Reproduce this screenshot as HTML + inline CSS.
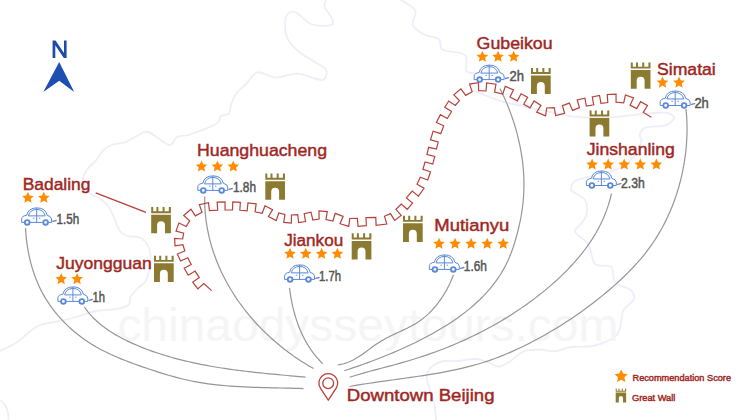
<!DOCTYPE html>
<html><head><meta charset="utf-8"><style>
html,body{margin:0;padding:0;background:#fff;overflow:hidden;width:747px;height:420px;}
svg{display:block;font-family:"Liberation Sans",sans-serif;}
</style></head><body>
<svg width="747" height="420" viewBox="0 0 747 420">
<rect width="747" height="420" fill="#ffffff"/>

<path d="M326.0,0.0 C325.8,1.1 323.5,3.4 324.6,6.7 C325.7,10.0 331.7,16.9 332.6,20.0 C333.5,23.1 333.6,24.7 330.0,25.4 C326.4,26.1 316.8,26.2 311.0,24.0 C305.2,21.8 299.2,13.1 295.0,12.0 C290.8,10.9 287.1,13.1 285.8,17.4 C284.5,21.6 285.0,31.9 287.0,37.5 C289.0,43.1 293.5,47.0 298.0,51.0 C302.5,55.0 309.3,58.5 314.0,61.6 C318.7,64.7 324.7,66.5 326.0,69.6 C327.3,72.7 326.7,79.3 322.0,80.0 C317.3,80.7 305.5,74.0 297.8,73.6 C290.1,73.2 282.7,77.8 276.0,77.6 C269.3,77.4 262.4,71.4 257.6,72.3 C252.8,73.2 250.6,79.4 247.0,83.0 C243.4,86.6 238.7,90.3 236.0,94.0 C233.3,97.7 232.2,101.7 231.0,105.0 C229.8,108.3 230.7,111.8 229.0,113.6 C227.3,115.4 223.2,114.3 221.0,116.0 C218.8,117.7 221.2,120.9 216.0,124.0 C210.8,127.1 196.5,132.3 190.0,134.5 C183.5,136.7 180.5,135.2 177.0,137.0 C173.5,138.8 173.8,145.8 169.0,145.0 C164.2,144.2 153.7,133.3 148.0,132.0 C142.3,130.7 138.9,135.3 135.0,137.0 C131.1,138.7 128.4,141.1 124.5,142.4 C120.6,143.7 114.9,143.7 111.4,145.0 C107.9,146.3 106.2,147.4 103.6,150.0 C101.0,152.6 98.3,157.6 95.7,160.7 C93.1,163.8 90.0,165.5 87.9,168.6 C85.8,171.7 82.8,175.0 83.0,179.0 C83.2,183.0 86.4,189.2 89.0,192.4 C91.6,195.6 95.4,195.8 98.6,198.0 C101.8,200.2 105.5,202.5 108.0,205.7 C110.5,208.9 111.9,212.9 113.8,217.0 C115.7,221.1 117.3,227.3 119.5,230.5 C121.7,233.7 123.6,234.8 127.0,236.0 C130.4,237.2 136.6,236.1 140.0,237.6 C143.4,239.1 145.8,242.1 147.6,245.0 C149.3,247.9 150.2,251.0 150.5,254.8 C150.8,258.6 150.3,263.6 149.5,268.0 C148.7,272.4 147.6,277.7 145.7,281.0 C143.8,284.3 140.5,285.3 138.0,288.0 C135.5,290.7 132.1,294.2 130.5,297.0 C128.9,299.8 130.8,303.0 128.5,305.0 C126.2,307.0 121.8,308.0 116.5,309.0 C111.2,310.0 103.1,309.7 96.4,311.0 C89.7,312.3 82.3,315.3 76.3,317.0 C70.3,318.7 66.2,319.7 60.2,321.0 C54.2,322.3 45.6,323.0 40.2,325.0 C34.8,327.0 32.0,330.0 28.0,333.0 C24.0,336.0 20.7,340.0 16.0,343.0 C11.3,346.0 2.7,349.7 0.0,351.0" fill="none" stroke="#eeeef8" stroke-width="1.8"/>
<path d="M400.9,0.0 C403.3,1.8 413.3,6.4 415.3,10.5 C417.3,14.6 411.4,21.0 412.7,24.9 C414.0,28.8 418.8,31.6 423.1,34.0 C427.5,36.4 435.5,36.7 438.8,39.3 C442.1,41.9 438.4,47.2 442.8,49.8 C447.2,52.4 461.1,51.5 465.0,55.0 C468.9,58.5 464.6,67.6 466.4,70.7 C468.1,73.8 474.0,73.0 475.5,73.4" fill="none" stroke="#eeeef8" stroke-width="1.8"/>
<path d="M470.0,89.0 C473.3,90.3 483.9,94.7 490.0,97.0 C496.1,99.3 497.5,100.4 506.9,102.7 C516.3,105.0 535.0,108.7 546.2,111.0 C557.4,113.3 564.9,115.5 574.3,116.7 C583.7,117.9 593.1,118.3 602.5,118.1 C611.9,117.9 620.3,116.2 630.6,115.3 C640.9,114.4 657.1,112.2 664.3,112.5 C671.5,112.8 672.5,115.6 673.8,117.0 C675.1,118.4 673.6,119.5 672.0,121.0 C670.4,122.5 668.8,124.6 664.3,125.7 C659.8,126.8 649.3,126.0 645.2,127.6 C641.1,129.2 640.1,133.0 639.5,135.2 C638.9,137.4 642.1,137.7 641.4,141.0 C640.6,144.3 638.6,150.5 635.0,155.0 C631.4,159.5 625.8,164.8 620.0,168.0 C614.2,171.2 605.3,172.5 600.0,174.0 C594.7,175.5 592.2,175.8 588.0,177.0 C583.8,178.2 577.6,179.1 574.8,181.0 C572.0,182.9 571.2,186.8 571.0,188.6 C570.8,190.4 571.0,190.1 573.3,192.0 C575.6,193.9 582.8,196.4 585.0,200.0 C587.2,203.6 587.2,209.4 586.7,213.3 C586.2,217.2 583.7,220.2 581.7,223.3 C579.8,226.4 574.0,228.2 575.0,231.7 C576.0,235.1 584.9,239.0 588.0,244.0 C591.1,249.0 591.7,257.9 593.4,261.5 C595.1,265.1 595.2,264.4 598.2,265.3 C601.2,266.2 608.6,264.4 611.5,267.2 C614.4,270.0 612.1,278.6 615.3,282.4 C618.5,286.2 627.6,287.1 630.6,290.0 C633.6,292.9 634.8,296.1 633.5,299.6 C632.2,303.1 625.2,306.2 623.0,311.0 C620.8,315.8 621.5,324.3 620.0,328.6 C618.5,332.9 618.6,334.1 614.3,337.0 C610.0,339.9 601.4,344.0 594.3,345.7 C587.1,347.4 578.1,346.1 571.4,347.0 C564.7,347.9 559.5,351.0 554.3,351.4 C549.1,351.8 545.1,349.5 540.0,349.5 C534.9,349.5 528.7,349.5 523.8,351.4 C518.9,353.3 514.6,358.4 510.5,361.0 C506.4,363.6 502.5,366.4 499.0,366.7 C495.5,367.0 493.3,364.2 489.5,362.9 C485.7,361.6 481.6,359.3 476.2,359.0 C470.8,358.7 462.5,360.7 457.1,361.0 C451.7,361.3 447.6,360.4 443.8,361.0 C440.0,361.6 436.8,363.2 434.3,364.8 C431.8,366.4 429.9,368.3 428.6,370.5 C427.3,372.7 426.5,374.8 426.7,378.0 C426.9,381.2 428.7,385.9 430.0,390.0 C431.3,394.1 433.3,397.9 434.3,402.9 C435.3,407.9 435.9,417.1 436.2,420.0" fill="none" stroke="#eeeef8" stroke-width="1.8"/>
<path d="M0.0,400.0 C0.8,400.8 3.7,402.8 5.0,405.0 C6.3,407.2 7.4,410.5 8.0,413.0 C8.6,415.5 8.5,418.8 8.6,420.0" fill="none" stroke="#eeeef8" stroke-width="1.8"/>
<text x="117.4" y="340.5" font-size="46" fill="#f5f5f5" textLength="501" lengthAdjust="spacingAndGlyphs">chinaodysseytours.com</text>
<path d="M25.50,228.00 L25.77,232.40 L26.15,236.83 L26.65,241.30 L27.28,245.78 L28.02,250.28 L28.89,254.77 L29.89,259.25 L31.01,263.70 L32.27,268.13 L33.66,272.51 L35.18,276.84 L36.85,281.11 L38.66,285.29 L40.61,289.40 L42.71,293.42 L44.94,297.34 L47.31,301.18 L49.81,304.92 L52.44,308.58 L55.19,312.13 L58.06,315.60 L61.04,318.96 L64.14,322.23 L67.34,325.39 L70.64,328.46 L74.04,331.42 L77.54,334.28 L81.12,337.03 L84.80,339.67 L88.55,342.21 L92.38,344.64 L96.29,346.96 L100.27,349.17 L104.31,351.28 L108.41,353.29 L112.55,355.21 L116.75,357.06 L120.98,358.83 L125.24,360.54 L129.53,362.18 L133.84,363.77 L138.16,365.32 L142.49,366.83 L146.82,368.30 L151.14,369.75 L155.47,371.18 L159.79,372.56 L164.12,373.90 L168.45,375.20 L172.79,376.44 L177.14,377.62 L181.51,378.73 L185.89,379.77 L190.29,380.73 L194.71,381.61 L199.16,382.41 L203.62,383.13 L208.10,383.79 L212.60,384.37 L217.11,384.89 L221.64,385.36 L226.17,385.76 L230.72,386.12 L235.28,386.44 L239.84,386.71 L244.40,386.94 L248.97,387.15 L253.54,387.32 L258.11,387.47 L262.69,387.60 L267.25,387.72 L271.82,387.82 L276.37,387.92 L280.92,388.01 L285.46,388.11 L289.99,388.21 L294.51,388.33 L299.01,388.45 L303.50,388.60" fill="none" stroke="#969696" stroke-width="1.2"/>
<path d="M84.39,307.01 L86.15,309.46 L87.99,311.83 L89.91,314.12 L91.91,316.33 L93.98,318.46 L96.12,320.52 L98.32,322.51 L100.59,324.42 L102.92,326.27 L105.30,328.06 L107.73,329.78 L110.22,331.45 L112.75,333.05 L115.32,334.61 L117.93,336.10 L120.57,337.55 L123.25,338.95 L125.95,340.31 L128.68,341.62 L131.44,342.89 L134.21,344.12 L136.99,345.32 L139.79,346.49 L142.60,347.62 L145.42,348.71 L148.25,349.78 L151.09,350.82 L153.94,351.82 L156.80,352.80 L159.67,353.75 L162.55,354.66 L165.43,355.55 L168.33,356.42 L171.23,357.25 L174.14,358.07 L177.06,358.85 L179.99,359.61 L182.92,360.35 L185.86,361.06 L188.81,361.75 L191.76,362.41 L194.72,363.06 L197.68,363.68 L200.65,364.29 L203.62,364.87 L206.60,365.43 L209.58,365.98 L212.57,366.50 L215.56,367.01 L218.55,367.51 L221.55,367.98 L224.55,368.44 L227.55,368.89 L230.55,369.32 L233.56,369.73 L236.57,370.13 L239.58,370.52 L242.59,370.90 L245.60,371.27 L248.61,371.62 L251.62,371.97 L254.63,372.30 L257.64,372.63 L260.65,372.95 L263.66,373.26 L266.66,373.56 L269.67,373.86 L272.67,374.14 L275.67,374.43 L278.67,374.71 L281.67,374.98 L284.66,375.25 L287.65,375.52 L290.64,375.79 L293.62,376.05 L296.60,376.31 L299.57,376.58 L302.54,376.84 L305.50,377.10" fill="none" stroke="#969696" stroke-width="1.2"/>
<path d="M204.70,196.50 L204.68,199.26 L204.71,202.02 L204.78,204.77 L204.90,207.51 L205.06,210.25 L205.27,212.97 L205.53,215.68 L205.83,218.39 L206.17,221.08 L206.56,223.76 L206.99,226.43 L207.46,229.09 L207.98,231.74 L208.53,234.38 L209.13,237.01 L209.77,239.62 L210.45,242.22 L211.17,244.81 L211.93,247.39 L212.73,249.95 L213.56,252.50 L214.44,255.04 L215.35,257.56 L216.30,260.07 L217.29,262.56 L218.31,265.04 L219.37,267.50 L220.47,269.95 L221.60,272.39 L222.77,274.80 L223.97,277.20 L225.21,279.59 L226.47,281.96 L227.78,284.31 L229.11,286.65 L230.48,288.96 L231.88,291.26 L233.31,293.55 L234.77,295.81 L236.26,298.06 L237.78,300.29 L239.33,302.49 L240.91,304.68 L242.52,306.85 L244.16,309.01 L245.82,311.14 L247.51,313.25 L249.23,315.34 L250.98,317.41 L252.75,319.46 L254.55,321.48 L256.38,323.49 L258.22,325.47 L260.10,327.44 L262.00,329.38 L263.92,331.29 L265.86,333.19 L267.83,335.06 L269.82,336.91 L271.83,338.73 L273.86,340.54 L275.91,342.31 L277.98,344.07 L280.08,345.79 L282.19,347.50 L284.32,349.18 L286.48,350.83 L288.65,352.46 L290.83,354.06 L293.04,355.63 L295.26,357.18 L297.50,358.71 L299.76,360.20 L302.03,361.67 L304.31,363.11 L306.61,364.53 L308.93,365.91 L311.26,367.27 L313.60,368.60" fill="none" stroke="#969696" stroke-width="1.2"/>
<path d="M289.50,287.90 L289.63,288.95 L289.77,289.99 L289.91,291.04 L290.07,292.09 L290.22,293.13 L290.38,294.18 L290.55,295.23 L290.73,296.28 L290.91,297.33 L291.09,298.37 L291.29,299.42 L291.48,300.47 L291.69,301.52 L291.90,302.56 L292.12,303.61 L292.34,304.65 L292.58,305.70 L292.81,306.74 L293.06,307.78 L293.31,308.82 L293.57,309.86 L293.84,310.89 L294.11,311.93 L294.39,312.96 L294.68,313.99 L294.97,315.02 L295.27,316.05 L295.58,317.08 L295.90,318.10 L296.22,319.12 L296.55,320.14 L296.89,321.15 L297.24,322.16 L297.59,323.17 L297.96,324.18 L298.33,325.18 L298.70,326.18 L299.09,327.17 L299.49,328.17 L299.89,329.16 L300.30,330.14 L300.72,331.12 L301.15,332.10 L301.58,333.07 L302.03,334.04 L302.48,335.00 L302.94,335.96 L303.41,336.92 L303.89,337.87 L304.38,338.81 L304.88,339.75 L305.39,340.69 L305.90,341.62 L306.42,342.54 L306.96,343.46 L307.50,344.38 L308.05,345.29 L308.62,346.19 L309.19,347.09 L309.77,347.98 L310.36,348.86 L310.96,349.74 L311.57,350.61 L312.19,351.48 L312.82,352.33 L313.46,353.19 L314.11,354.03 L314.76,354.87 L315.43,355.70 L316.11,356.52 L316.80,357.34 L317.50,358.15 L318.22,358.95 L318.94,359.75 L319.67,360.53 L320.41,361.31 L321.16,362.08 L321.93,362.84 L322.70,363.60" fill="none" stroke="#969696" stroke-width="1.2"/>
<path d="M453.40,274.70 L452.77,276.51 L452.10,278.30 L451.39,280.08 L450.64,281.84 L449.85,283.59 L449.02,285.32 L448.15,287.03 L447.26,288.73 L446.32,290.42 L445.36,292.08 L444.37,293.73 L443.34,295.37 L442.29,296.99 L441.21,298.59 L440.11,300.17 L438.97,301.73 L437.81,303.28 L436.63,304.79 L435.41,306.29 L434.17,307.76 L432.90,309.20 L431.61,310.60 L430.28,311.98 L428.93,313.33 L427.55,314.64 L426.14,315.91 L424.70,317.15 L423.24,318.34 L421.74,319.50 L420.21,320.61 L418.66,321.68 L417.08,322.70 L415.47,323.69 L413.84,324.64 L412.19,325.57 L410.52,326.46 L408.84,327.33 L407.14,328.18 L405.43,329.02 L403.71,329.84 L401.98,330.65 L400.24,331.45 L398.51,332.25 L396.77,333.05 L395.03,333.86 L393.29,334.68 L391.56,335.50 L389.84,336.34 L388.13,337.20 L386.42,338.08 L384.74,338.99 L383.06,339.92 L381.41,340.89 L379.78,341.89 L378.17,342.93 L376.57,344.00 L374.99,345.10 L373.42,346.22 L371.87,347.35 L370.31,348.49 L368.76,349.64 L367.21,350.79 L365.66,351.93 L364.10,353.06 L362.53,354.17 L360.94,355.26 L359.34,356.32 L357.73,357.35 L356.09,358.34 L354.42,359.28 L352.73,360.18 L351.00,361.02 L349.25,361.80 L347.45,362.51 L345.61,363.15 L343.73,363.72 L341.81,364.20 L339.83,364.60 L337.80,364.90" fill="none" stroke="#969696" stroke-width="1.2"/>
<path d="M500.00,88.60 L502.09,92.89 L504.11,97.23 L506.04,101.63 L507.89,106.08 L509.65,110.57 L511.32,115.10 L512.91,119.68 L514.39,124.29 L515.79,128.93 L517.08,133.61 L518.27,138.31 L519.35,143.03 L520.33,147.78 L521.19,152.54 L521.95,157.32 L522.58,162.11 L523.10,166.91 L523.50,171.72 L523.78,176.52 L523.92,181.33 L523.94,186.13 L523.83,190.93 L523.59,195.71 L523.21,200.49 L522.71,205.26 L522.09,210.01 L521.35,214.76 L520.49,219.49 L519.52,224.21 L518.44,228.92 L517.25,233.61 L515.96,238.29 L514.56,242.95 L513.05,247.59 L511.42,252.17 L509.65,256.69 L507.72,261.12 L505.62,265.43 L503.35,269.64 L500.91,273.73 L498.32,277.72 L495.58,281.60 L492.70,285.38 L489.69,289.06 L486.54,292.63 L483.27,296.11 L479.89,299.50 L476.40,302.79 L472.80,305.99 L469.11,309.10 L465.34,312.13 L461.48,315.07 L457.54,317.92 L453.54,320.70 L449.47,323.40 L445.35,326.02 L441.18,328.57 L436.97,331.05 L432.73,333.46 L428.46,335.80 L424.16,338.07 L419.86,340.28 L415.54,342.43 L411.20,344.52 L406.86,346.56 L402.49,348.54 L398.12,350.48 L393.73,352.36 L389.32,354.20 L384.90,356.01 L380.46,357.77 L376.01,359.49 L371.54,361.19 L367.04,362.85 L362.54,364.48 L358.01,366.09 L353.46,367.68 L348.89,369.25 L344.30,370.80" fill="none" stroke="#969696" stroke-width="1.2"/>
<path d="M611.41,193.60 L610.44,197.76 L609.33,201.87 L608.09,205.92 L606.72,209.91 L605.24,213.85 L603.63,217.74 L601.90,221.56 L600.06,225.34 L598.11,229.06 L596.06,232.72 L593.91,236.34 L591.66,239.90 L589.32,243.40 L586.88,246.86 L584.36,250.26 L581.76,253.61 L579.08,256.91 L576.33,260.16 L573.50,263.36 L570.61,266.50 L567.65,269.60 L564.64,272.65 L561.56,275.64 L558.44,278.59 L555.27,281.49 L552.05,284.34 L548.79,287.15 L545.49,289.90 L542.16,292.61 L538.80,295.27 L535.42,297.89 L532.01,300.45 L528.57,302.98 L525.10,305.45 L521.61,307.88 L518.10,310.27 L514.56,312.61 L510.99,314.91 L507.40,317.16 L503.79,319.37 L500.16,321.53 L496.50,323.65 L492.82,325.73 L489.11,327.77 L485.39,329.76 L481.64,331.71 L477.88,333.62 L474.09,335.49 L470.29,337.32 L466.46,339.10 L462.61,340.85 L458.75,342.56 L454.86,344.23 L450.96,345.85 L447.04,347.44 L443.11,348.99 L439.15,350.51 L435.18,351.98 L431.20,353.42 L427.19,354.81 L423.17,356.18 L419.14,357.50 L415.09,358.79 L411.03,360.04 L406.96,361.26 L402.87,362.44 L398.76,363.59 L394.65,364.71 L390.53,365.81 L386.41,366.90 L382.29,367.99 L378.16,369.07 L374.05,370.17 L369.94,371.28 L365.84,372.41 L361.75,373.57 L357.68,374.77 L353.63,376.01 L349.60,377.29" fill="none" stroke="#969696" stroke-width="1.2"/>
<path d="M686.00,109.00 L686.55,115.11 L686.89,121.23 L687.04,127.37 L687.00,133.51 L686.76,139.66 L686.34,145.80 L685.73,151.93 L684.94,158.05 L683.98,164.15 L682.84,170.23 L681.54,176.27 L680.06,182.28 L678.41,188.24 L676.59,194.15 L674.60,199.99 L672.43,205.77 L670.08,211.46 L667.56,217.08 L664.86,222.61 L662.00,228.04 L658.95,233.38 L655.74,238.60 L652.36,243.72 L648.81,248.71 L645.09,253.58 L641.21,258.33 L637.18,262.96 L633.02,267.48 L628.73,271.89 L624.34,276.22 L619.85,280.46 L615.28,284.62 L610.64,288.71 L605.93,292.72 L601.16,296.65 L596.31,300.52 L591.41,304.30 L586.44,308.01 L581.41,311.64 L576.33,315.20 L571.20,318.68 L566.02,322.08 L560.79,325.40 L555.51,328.65 L550.19,331.82 L544.83,334.90 L539.43,337.91 L534.00,340.84 L528.52,343.68 L523.01,346.43 L517.46,349.07 L511.87,351.61 L506.23,354.04 L500.55,356.34 L494.82,358.52 L489.04,360.57 L483.22,362.48 L477.35,364.25 L471.43,365.89 L465.48,367.42 L459.49,368.84 L453.46,370.16 L447.41,371.39 L441.33,372.54 L435.23,373.62 L429.12,374.64 L422.99,375.60 L416.84,376.52 L410.69,377.41 L404.54,378.28 L398.39,379.13 L392.24,379.97 L386.10,380.82 L379.96,381.68 L373.85,382.56 L367.75,383.48 L361.67,384.43 L355.62,385.44 L349.60,386.50" fill="none" stroke="#969696" stroke-width="1.2"/>
<path d="M211.66,290.66 L203.81,283.58 L197.80,288.85 L192.70,282.13 L199.29,277.60 L195.10,271.08 L188.27,275.26 L184.21,268.31 L191.21,264.43 L187.77,257.67 L180.52,261.04 L177.39,253.98 L184.81,250.99 L182.91,244.70 L175.00,245.92 L174.66,238.33 L182.64,238.98 L183.69,233.21 L176.00,230.99 L178.91,223.03 L186.14,226.47 L189.67,220.83 L183.72,215.47 L190.92,209.24 L195.39,215.88 L202.05,212.27 L199.33,204.75 L208.50,202.73 L209.43,210.68 L217.68,210.08 L217.18,202.09 L225.03,201.83 L225.03,209.83 L232.50,210.00 L232.76,202.00 L240.36,202.33 L239.84,210.32 L247.12,210.95 L247.96,203.00 L256.17,203.88 L255.07,211.81 L262.21,213.27 L264.92,205.74 L272.63,209.68 L268.47,216.51 L276.17,220.56 L278.80,213.00 L284.96,214.46 L283.74,222.36 L291.33,223.00 L291.45,215.00 L297.67,214.66 L298.65,222.60 L305.55,221.60 L304.20,213.72 L311.02,212.20 L312.83,219.99 L319.11,219.00 L319.00,211.00 L327.27,211.67 L325.97,219.57 L332.96,221.03 L335.15,213.34 L343.12,216.34 L340.05,223.73 L348.74,226.43 L349.76,218.49 L357.34,218.44 L358.08,226.40 L366.38,225.59 L365.93,217.60 L375.81,217.32 L376.09,225.31 L386.79,223.99 L384.54,216.32 L390.41,213.60 L394.68,220.36 L401.20,215.38 L395.96,209.34 L401.26,204.03 L407.28,209.29 L412.51,203.07 L406.41,197.89 L412.21,191.10 L418.42,196.14 L424.05,188.26 L417.08,184.34 L420.27,177.21 L427.78,179.97 L430.50,171.79 L422.89,169.34 L425.06,162.02 L432.78,164.11 L434.76,156.46 L426.99,154.54 L428.63,147.33 L436.44,149.06 L438.18,142.03 L430.49,139.82 L433.15,131.16 L440.74,133.69 L443.72,125.73 L436.41,122.48 L440.36,114.63 L447.35,118.52 L451.58,111.44 L444.78,107.23 L448.70,101.00 L455.33,105.47 L459.39,100.62 L453.87,94.82 L460.92,88.91 L465.67,95.35 L472.15,91.65 L469.56,84.08 L478.49,82.61 L478.58,90.61 L486.00,90.98 L486.68,83.01 L495.99,84.19 L494.54,92.06 L502.76,94.02 L505.26,86.42 L513.50,89.83 L510.00,97.02 L517.36,100.82 L521.05,93.72 L527.63,97.30 L523.69,104.26 L530.04,107.85 L534.09,100.95 L540.96,105.39 L536.66,112.14 L545.56,115.90 L546.71,107.99 L554.22,107.63 L555.63,115.50 L564.64,113.41 L562.42,105.72 L569.33,103.09 L572.60,110.40 L579.47,107.57 L577.19,99.90 L584.91,98.15 L586.35,106.01 L593.72,104.77 L592.29,96.90 L599.53,95.50 L600.94,103.38 L607.80,102.48 L607.26,94.50 L616.06,94.19 L616.05,102.19 L623.70,102.82 L625.41,95.00 L633.56,97.92 L630.06,105.12 L636.73,108.64 L640.57,101.63 L647.40,105.55 L643.31,112.42 L651.36,117.31" fill="none" stroke="#b6423b" stroke-width="1.2" stroke-linejoin="miter"/>
<line x1="95.7" y1="192.8" x2="146" y2="212.4" stroke="#b6423b" stroke-width="1.4"/>
<g transform="translate(151.2,207.1) scale(1.000)"><g fill="#8c7a30">
<path d="M0,0 h2 v4.2 h3.2 v-4.2 h2 v4.2 h4.2 v-4.2 h2 v4.2 h4.2 v-4.2 h2.1 v6.1 h-19.7 z"/>
<path d="M0,7.6 h19.7 v18.6 h-5.9 v-8.1 a3.95,3.95 0 0 0 -7.9,0 v8.1 h-5.9 z"/>
</g></g>
<g transform="translate(154.0,255.7) scale(1.000)"><g fill="#8c7a30">
<path d="M0,0 h2 v4.2 h3.2 v-4.2 h2 v4.2 h4.2 v-4.2 h2 v4.2 h4.2 v-4.2 h2.1 v6.1 h-19.7 z"/>
<path d="M0,7.6 h19.7 v18.6 h-5.9 v-8.1 a3.95,3.95 0 0 0 -7.9,0 v8.1 h-5.9 z"/>
</g></g>
<g transform="translate(265.3,173.6) scale(1.000)"><g fill="#8c7a30">
<path d="M0,0 h2 v4.2 h3.2 v-4.2 h2 v4.2 h4.2 v-4.2 h2 v4.2 h4.2 v-4.2 h2.1 v6.1 h-19.7 z"/>
<path d="M0,7.6 h19.7 v18.6 h-5.9 v-8.1 a3.95,3.95 0 0 0 -7.9,0 v8.1 h-5.9 z"/>
</g></g>
<g transform="translate(351.7,233.3) scale(1.000)"><g fill="#8c7a30">
<path d="M0,0 h2 v4.2 h3.2 v-4.2 h2 v4.2 h4.2 v-4.2 h2 v4.2 h4.2 v-4.2 h2.1 v6.1 h-19.7 z"/>
<path d="M0,7.6 h19.7 v18.6 h-5.9 v-8.1 a3.95,3.95 0 0 0 -7.9,0 v8.1 h-5.9 z"/>
</g></g>
<g transform="translate(403.0,215.7) scale(1.000)"><g fill="#8c7a30">
<path d="M0,0 h2 v4.2 h3.2 v-4.2 h2 v4.2 h4.2 v-4.2 h2 v4.2 h4.2 v-4.2 h2.1 v6.1 h-19.7 z"/>
<path d="M0,7.6 h19.7 v18.6 h-5.9 v-8.1 a3.95,3.95 0 0 0 -7.9,0 v8.1 h-5.9 z"/>
</g></g>
<g transform="translate(531.0,67.9) scale(1.000)"><g fill="#8c7a30">
<path d="M0,0 h2 v4.2 h3.2 v-4.2 h2 v4.2 h4.2 v-4.2 h2 v4.2 h4.2 v-4.2 h2.1 v6.1 h-19.7 z"/>
<path d="M0,7.6 h19.7 v18.6 h-5.9 v-8.1 a3.95,3.95 0 0 0 -7.9,0 v8.1 h-5.9 z"/>
</g></g>
<g transform="translate(630.8,62.5) scale(1.000)"><g fill="#8c7a30">
<path d="M0,0 h2 v4.2 h3.2 v-4.2 h2 v4.2 h4.2 v-4.2 h2 v4.2 h4.2 v-4.2 h2.1 v6.1 h-19.7 z"/>
<path d="M0,7.6 h19.7 v18.6 h-5.9 v-8.1 a3.95,3.95 0 0 0 -7.9,0 v8.1 h-5.9 z"/>
</g></g>
<g transform="translate(589.6,110.4) scale(1.000)"><g fill="#8c7a30">
<path d="M0,0 h2 v4.2 h3.2 v-4.2 h2 v4.2 h4.2 v-4.2 h2 v4.2 h4.2 v-4.2 h2.1 v6.1 h-19.7 z"/>
<path d="M0,7.6 h19.7 v18.6 h-5.9 v-8.1 a3.95,3.95 0 0 0 -7.9,0 v8.1 h-5.9 z"/>
</g></g>
<g transform="translate(615.7,388.5) scale(0.530)"><g fill="#8c7a30">
<path d="M0,0 h2 v4.2 h3.2 v-4.2 h2 v4.2 h4.2 v-4.2 h2 v4.2 h4.2 v-4.2 h2.1 v6.1 h-19.7 z"/>
<path d="M0,7.6 h19.7 v18.6 h-5.9 v-8.1 a3.95,3.95 0 0 0 -7.9,0 v8.1 h-5.9 z"/>
</g></g>
<path d="M27.90,191.80 L29.60,195.56 L33.70,196.01 L30.66,198.80 L31.49,202.84 L27.90,200.80 L24.31,202.84 L25.14,198.80 L22.10,196.01 L26.20,195.56Z" fill="#ff8c00"/><path d="M43.80,191.80 L45.50,195.56 L49.60,196.01 L46.56,198.80 L47.39,202.84 L43.80,200.80 L40.21,202.84 L41.04,198.80 L38.00,196.01 L42.10,195.56Z" fill="#ff8c00"/>
<path d="M61.20,273.10 L62.90,276.86 L67.00,277.31 L63.96,280.10 L64.79,284.14 L61.20,282.10 L57.61,284.14 L58.44,280.10 L55.40,277.31 L59.50,276.86Z" fill="#ff8c00"/><path d="M77.10,273.10 L78.80,276.86 L82.90,277.31 L79.86,280.10 L80.69,284.14 L77.10,282.10 L73.51,284.14 L74.34,280.10 L71.30,277.31 L75.40,276.86Z" fill="#ff8c00"/>
<path d="M201.50,160.50 L203.20,164.26 L207.30,164.71 L204.26,167.50 L205.09,171.54 L201.50,169.50 L197.91,171.54 L198.74,167.50 L195.70,164.71 L199.80,164.26Z" fill="#ff8c00"/><path d="M217.40,160.50 L219.10,164.26 L223.20,164.71 L220.16,167.50 L220.99,171.54 L217.40,169.50 L213.81,171.54 L214.64,167.50 L211.60,164.71 L215.70,164.26Z" fill="#ff8c00"/><path d="M233.30,160.50 L235.00,164.26 L239.10,164.71 L236.06,167.50 L236.89,171.54 L233.30,169.50 L229.71,171.54 L230.54,167.50 L227.50,164.71 L231.60,164.26Z" fill="#ff8c00"/>
<path d="M290.00,247.80 L291.70,251.56 L295.80,252.01 L292.76,254.80 L293.59,258.84 L290.00,256.80 L286.41,258.84 L287.24,254.80 L284.20,252.01 L288.30,251.56Z" fill="#ff8c00"/><path d="M305.80,247.80 L307.50,251.56 L311.60,252.01 L308.56,254.80 L309.39,258.84 L305.80,256.80 L302.21,258.84 L303.04,254.80 L300.00,252.01 L304.10,251.56Z" fill="#ff8c00"/><path d="M321.60,247.80 L323.30,251.56 L327.40,252.01 L324.36,254.80 L325.19,258.84 L321.60,256.80 L318.01,258.84 L318.84,254.80 L315.80,252.01 L319.90,251.56Z" fill="#ff8c00"/><path d="M337.40,247.80 L339.10,251.56 L343.20,252.01 L340.16,254.80 L340.99,258.84 L337.40,256.80 L333.81,258.84 L334.64,254.80 L331.60,252.01 L335.70,251.56Z" fill="#ff8c00"/>
<path d="M439.00,237.80 L440.70,241.56 L444.80,242.01 L441.76,244.80 L442.59,248.84 L439.00,246.80 L435.41,248.84 L436.24,244.80 L433.20,242.01 L437.30,241.56Z" fill="#ff8c00"/><path d="M455.05,237.80 L456.75,241.56 L460.85,242.01 L457.81,244.80 L458.64,248.84 L455.05,246.80 L451.46,248.84 L452.29,244.80 L449.25,242.01 L453.35,241.56Z" fill="#ff8c00"/><path d="M471.10,237.80 L472.80,241.56 L476.90,242.01 L473.86,244.80 L474.69,248.84 L471.10,246.80 L467.51,248.84 L468.34,244.80 L465.30,242.01 L469.40,241.56Z" fill="#ff8c00"/><path d="M487.15,237.80 L488.85,241.56 L492.95,242.01 L489.91,244.80 L490.74,248.84 L487.15,246.80 L483.56,248.84 L484.39,244.80 L481.35,242.01 L485.45,241.56Z" fill="#ff8c00"/><path d="M503.20,237.80 L504.90,241.56 L509.00,242.01 L505.96,244.80 L506.79,248.84 L503.20,246.80 L499.61,248.84 L500.44,244.80 L497.40,242.01 L501.50,241.56Z" fill="#ff8c00"/>
<path d="M482.40,50.80 L484.10,54.56 L488.20,55.01 L485.16,57.80 L485.99,61.84 L482.40,59.80 L478.81,61.84 L479.64,57.80 L476.60,55.01 L480.70,54.56Z" fill="#ff8c00"/><path d="M498.05,50.80 L499.75,54.56 L503.85,55.01 L500.81,57.80 L501.64,61.84 L498.05,59.80 L494.46,61.84 L495.29,57.80 L492.25,55.01 L496.35,54.56Z" fill="#ff8c00"/><path d="M513.70,50.80 L515.40,54.56 L519.50,55.01 L516.46,57.80 L517.29,61.84 L513.70,59.80 L510.11,61.84 L510.94,57.80 L507.90,55.01 L512.00,54.56Z" fill="#ff8c00"/>
<path d="M662.50,76.60 L664.20,80.36 L668.30,80.81 L665.26,83.60 L666.09,87.64 L662.50,85.60 L658.91,87.64 L659.74,83.60 L656.70,80.81 L660.80,80.36Z" fill="#ff8c00"/><path d="M679.00,76.60 L680.70,80.36 L684.80,80.81 L681.76,83.60 L682.59,87.64 L679.00,85.60 L675.41,87.64 L676.24,83.60 L673.20,80.81 L677.30,80.36Z" fill="#ff8c00"/>
<path d="M592.10,158.50 L593.80,162.26 L597.90,162.71 L594.86,165.50 L595.69,169.54 L592.10,167.50 L588.51,169.54 L589.34,165.50 L586.30,162.71 L590.40,162.26Z" fill="#ff8c00"/><path d="M608.17,158.50 L609.87,162.26 L613.97,162.71 L610.93,165.50 L611.76,169.54 L608.17,167.50 L604.58,169.54 L605.41,165.50 L602.37,162.71 L606.47,162.26Z" fill="#ff8c00"/><path d="M624.24,158.50 L625.94,162.26 L630.04,162.71 L627.00,165.50 L627.83,169.54 L624.24,167.50 L620.65,169.54 L621.48,165.50 L618.44,162.71 L622.54,162.26Z" fill="#ff8c00"/><path d="M640.31,158.50 L642.01,162.26 L646.11,162.71 L643.07,165.50 L643.90,169.54 L640.31,167.50 L636.72,169.54 L637.55,165.50 L634.51,162.71 L638.61,162.26Z" fill="#ff8c00"/><path d="M656.38,158.50 L658.08,162.26 L662.18,162.71 L659.14,165.50 L659.97,169.54 L656.38,167.50 L652.79,169.54 L653.62,165.50 L650.58,162.71 L654.68,162.26Z" fill="#ff8c00"/>
<path d="M621.20,369.40 L623.20,373.55 L627.76,374.17 L624.43,377.35 L625.26,381.88 L621.20,379.70 L617.14,381.88 L617.97,377.35 L614.64,374.17 L619.20,373.55Z" fill="#ff8c00"/>
<g transform="translate(18.6,204.0)"><g fill="none" stroke="#5a89da" stroke-width="1.0" stroke-linecap="round" stroke-linejoin="round">
<path d="M3.1,18.4 V14.6 Q3.4,11.9 8.1,11.3 Q9.6,3.9 18.3,3.9 Q27,3.9 28.6,11.3 Q32.6,12.2 33,15 V18.4 Z" fill="#fff" stroke="none"/>
<path d="M6.2,18.4 H3.1 V14.6 Q3.4,11.9 8.1,11.3 Q9.6,3.9 18.3,3.9 Q27,3.9 28.6,11.3 Q32.6,12.2 33,15 V18.4 H29.6"/>
<path d="M11,18.4 H24.6"/>
<path d="M9.9,11.5 Q11.2,5.6 18.2,5.4 Q25.2,5.6 26.5,11.5 Z"/>
<path d="M18.1,4.2 V18"/>
<circle cx="8.6" cy="18.4" r="2.35" stroke-width="1.8"/>
<circle cx="27" cy="18.4" r="2.35" stroke-width="1.8"/>
<path d="M34.3,17.3 L37.6,16.5" stroke-width="1.3"/>
<path d="M14.7,14.2 h0.7 M20.7,14.2 h0.7" stroke-width="0.9"/>
</g></g>
<g transform="translate(54.8,283.0)"><g fill="none" stroke="#5a89da" stroke-width="1.0" stroke-linecap="round" stroke-linejoin="round">
<path d="M3.1,18.4 V14.6 Q3.4,11.9 8.1,11.3 Q9.6,3.9 18.3,3.9 Q27,3.9 28.6,11.3 Q32.6,12.2 33,15 V18.4 Z" fill="#fff" stroke="none"/>
<path d="M6.2,18.4 H3.1 V14.6 Q3.4,11.9 8.1,11.3 Q9.6,3.9 18.3,3.9 Q27,3.9 28.6,11.3 Q32.6,12.2 33,15 V18.4 H29.6"/>
<path d="M11,18.4 H24.6"/>
<path d="M9.9,11.5 Q11.2,5.6 18.2,5.4 Q25.2,5.6 26.5,11.5 Z"/>
<path d="M18.1,4.2 V18"/>
<circle cx="8.6" cy="18.4" r="2.35" stroke-width="1.8"/>
<circle cx="27" cy="18.4" r="2.35" stroke-width="1.8"/>
<path d="M34.3,17.3 L37.6,16.5" stroke-width="1.3"/>
<path d="M14.7,14.2 h0.7 M20.7,14.2 h0.7" stroke-width="0.9"/>
</g></g>
<g transform="translate(194.7,172.0)"><g fill="none" stroke="#5a89da" stroke-width="1.0" stroke-linecap="round" stroke-linejoin="round">
<path d="M3.1,18.4 V14.6 Q3.4,11.9 8.1,11.3 Q9.6,3.9 18.3,3.9 Q27,3.9 28.6,11.3 Q32.6,12.2 33,15 V18.4 Z" fill="#fff" stroke="none"/>
<path d="M6.2,18.4 H3.1 V14.6 Q3.4,11.9 8.1,11.3 Q9.6,3.9 18.3,3.9 Q27,3.9 28.6,11.3 Q32.6,12.2 33,15 V18.4 H29.6"/>
<path d="M11,18.4 H24.6"/>
<path d="M9.9,11.5 Q11.2,5.6 18.2,5.4 Q25.2,5.6 26.5,11.5 Z"/>
<path d="M18.1,4.2 V18"/>
<circle cx="8.6" cy="18.4" r="2.35" stroke-width="1.8"/>
<circle cx="27" cy="18.4" r="2.35" stroke-width="1.8"/>
<path d="M34.3,17.3 L37.6,16.5" stroke-width="1.3"/>
<path d="M14.7,14.2 h0.7 M20.7,14.2 h0.7" stroke-width="0.9"/>
</g></g>
<g transform="translate(281.5,261.0)"><g fill="none" stroke="#5a89da" stroke-width="1.0" stroke-linecap="round" stroke-linejoin="round">
<path d="M3.1,18.4 V14.6 Q3.4,11.9 8.1,11.3 Q9.6,3.9 18.3,3.9 Q27,3.9 28.6,11.3 Q32.6,12.2 33,15 V18.4 Z" fill="#fff" stroke="none"/>
<path d="M6.2,18.4 H3.1 V14.6 Q3.4,11.9 8.1,11.3 Q9.6,3.9 18.3,3.9 Q27,3.9 28.6,11.3 Q32.6,12.2 33,15 V18.4 H29.6"/>
<path d="M11,18.4 H24.6"/>
<path d="M9.9,11.5 Q11.2,5.6 18.2,5.4 Q25.2,5.6 26.5,11.5 Z"/>
<path d="M18.1,4.2 V18"/>
<circle cx="8.6" cy="18.4" r="2.35" stroke-width="1.8"/>
<circle cx="27" cy="18.4" r="2.35" stroke-width="1.8"/>
<path d="M34.3,17.3 L37.6,16.5" stroke-width="1.3"/>
<path d="M14.7,14.2 h0.7 M20.7,14.2 h0.7" stroke-width="0.9"/>
</g></g>
<g transform="translate(426.3,251.0)"><g fill="none" stroke="#5a89da" stroke-width="1.0" stroke-linecap="round" stroke-linejoin="round">
<path d="M3.1,18.4 V14.6 Q3.4,11.9 8.1,11.3 Q9.6,3.9 18.3,3.9 Q27,3.9 28.6,11.3 Q32.6,12.2 33,15 V18.4 Z" fill="#fff" stroke="none"/>
<path d="M6.2,18.4 H3.1 V14.6 Q3.4,11.9 8.1,11.3 Q9.6,3.9 18.3,3.9 Q27,3.9 28.6,11.3 Q32.6,12.2 33,15 V18.4 H29.6"/>
<path d="M11,18.4 H24.6"/>
<path d="M9.9,11.5 Q11.2,5.6 18.2,5.4 Q25.2,5.6 26.5,11.5 Z"/>
<path d="M18.1,4.2 V18"/>
<circle cx="8.6" cy="18.4" r="2.35" stroke-width="1.8"/>
<circle cx="27" cy="18.4" r="2.35" stroke-width="1.8"/>
<path d="M34.3,17.3 L37.6,16.5" stroke-width="1.3"/>
<path d="M14.7,14.2 h0.7 M20.7,14.2 h0.7" stroke-width="0.9"/>
</g></g>
<g transform="translate(471.1,61.2)"><g fill="none" stroke="#5a89da" stroke-width="1.0" stroke-linecap="round" stroke-linejoin="round">
<path d="M3.1,18.4 V14.6 Q3.4,11.9 8.1,11.3 Q9.6,3.9 18.3,3.9 Q27,3.9 28.6,11.3 Q32.6,12.2 33,15 V18.4 Z" fill="#fff" stroke="none"/>
<path d="M6.2,18.4 H3.1 V14.6 Q3.4,11.9 8.1,11.3 Q9.6,3.9 18.3,3.9 Q27,3.9 28.6,11.3 Q32.6,12.2 33,15 V18.4 H29.6"/>
<path d="M11,18.4 H24.6"/>
<path d="M9.9,11.5 Q11.2,5.6 18.2,5.4 Q25.2,5.6 26.5,11.5 Z"/>
<path d="M18.1,4.2 V18"/>
<circle cx="8.6" cy="18.4" r="2.35" stroke-width="1.8"/>
<circle cx="27" cy="18.4" r="2.35" stroke-width="1.8"/>
<path d="M34.3,17.3 L37.6,16.5" stroke-width="1.3"/>
<path d="M14.7,14.2 h0.7 M20.7,14.2 h0.7" stroke-width="0.9"/>
</g></g>
<g transform="translate(657.1,87.1)"><g fill="none" stroke="#5a89da" stroke-width="1.0" stroke-linecap="round" stroke-linejoin="round">
<path d="M3.1,18.4 V14.6 Q3.4,11.9 8.1,11.3 Q9.6,3.9 18.3,3.9 Q27,3.9 28.6,11.3 Q32.6,12.2 33,15 V18.4 Z" fill="#fff" stroke="none"/>
<path d="M6.2,18.4 H3.1 V14.6 Q3.4,11.9 8.1,11.3 Q9.6,3.9 18.3,3.9 Q27,3.9 28.6,11.3 Q32.6,12.2 33,15 V18.4 H29.6"/>
<path d="M11,18.4 H24.6"/>
<path d="M9.9,11.5 Q11.2,5.6 18.2,5.4 Q25.2,5.6 26.5,11.5 Z"/>
<path d="M18.1,4.2 V18"/>
<circle cx="8.6" cy="18.4" r="2.35" stroke-width="1.8"/>
<circle cx="27" cy="18.4" r="2.35" stroke-width="1.8"/>
<path d="M34.3,17.3 L37.6,16.5" stroke-width="1.3"/>
<path d="M14.7,14.2 h0.7 M20.7,14.2 h0.7" stroke-width="0.9"/>
</g></g>
<g transform="translate(583.3,167.1)"><g fill="none" stroke="#5a89da" stroke-width="1.0" stroke-linecap="round" stroke-linejoin="round">
<path d="M3.1,18.4 V14.6 Q3.4,11.9 8.1,11.3 Q9.6,3.9 18.3,3.9 Q27,3.9 28.6,11.3 Q32.6,12.2 33,15 V18.4 Z" fill="#fff" stroke="none"/>
<path d="M6.2,18.4 H3.1 V14.6 Q3.4,11.9 8.1,11.3 Q9.6,3.9 18.3,3.9 Q27,3.9 28.6,11.3 Q32.6,12.2 33,15 V18.4 H29.6"/>
<path d="M11,18.4 H24.6"/>
<path d="M9.9,11.5 Q11.2,5.6 18.2,5.4 Q25.2,5.6 26.5,11.5 Z"/>
<path d="M18.1,4.2 V18"/>
<circle cx="8.6" cy="18.4" r="2.35" stroke-width="1.8"/>
<circle cx="27" cy="18.4" r="2.35" stroke-width="1.8"/>
<path d="M34.3,17.3 L37.6,16.5" stroke-width="1.3"/>
<path d="M14.7,14.2 h0.7 M20.7,14.2 h0.7" stroke-width="0.9"/>
</g></g>
<text x="22.7" y="189.9" font-size="17.4" fill="#9e281f" font-weight="normal" textLength="67.8" lengthAdjust="spacingAndGlyphs" stroke="#9e281f" stroke-width="0.45">Badaling</text>
<text x="56.2" y="268.8" font-size="17.4" fill="#9e281f" font-weight="normal" textLength="95.6" lengthAdjust="spacingAndGlyphs" stroke="#9e281f" stroke-width="0.45">Juyongguan</text>
<text x="197.0" y="156.3" font-size="17.4" fill="#9e281f" font-weight="normal" textLength="130.0" lengthAdjust="spacingAndGlyphs" stroke="#9e281f" stroke-width="0.45">Huanghuacheng</text>
<text x="284.2" y="245.6" font-size="17.4" fill="#9e281f" font-weight="normal" textLength="59.0" lengthAdjust="spacingAndGlyphs" stroke="#9e281f" stroke-width="0.45">Jiankou</text>
<text x="434.3" y="231.1" font-size="17.4" fill="#9e281f" font-weight="normal" textLength="75.0" lengthAdjust="spacingAndGlyphs" stroke="#9e281f" stroke-width="0.45">Mutianyu</text>
<text x="476.6" y="48.8" font-size="17.4" fill="#9e281f" font-weight="normal" textLength="76.0" lengthAdjust="spacingAndGlyphs" stroke="#9e281f" stroke-width="0.45">Gubeikou</text>
<text x="657.0" y="75.4" font-size="17.4" fill="#9e281f" font-weight="normal" textLength="58.8" lengthAdjust="spacingAndGlyphs" stroke="#9e281f" stroke-width="0.45">Simatai</text>
<text x="586.8" y="154.9" font-size="17.4" fill="#9e281f" font-weight="normal" textLength="88.0" lengthAdjust="spacingAndGlyphs" stroke="#9e281f" stroke-width="0.45">Jinshanling</text>
<text x="346.8" y="401.0" font-size="17.0" fill="#9e281f" font-weight="normal" textLength="147.7" lengthAdjust="spacingAndGlyphs" stroke="#9e281f" stroke-width="0.45">Downtown Beijing</text>
<text x="56.5" y="224.0" font-size="14.2" fill="#555555" font-weight="normal" textLength="22.7" lengthAdjust="spacingAndGlyphs" stroke="#555555" stroke-width="0.50">1.5h</text>
<text x="92.5" y="302.1" font-size="14.2" fill="#555555" font-weight="normal" textLength="12.5" lengthAdjust="spacingAndGlyphs" stroke="#555555" stroke-width="0.50">1h</text>
<text x="233.0" y="192.2" font-size="14.2" fill="#555555" font-weight="normal" textLength="23.0" lengthAdjust="spacingAndGlyphs" stroke="#555555" stroke-width="0.50">1.8h</text>
<text x="319.0" y="281.4" font-size="14.2" fill="#555555" font-weight="normal" textLength="22.0" lengthAdjust="spacingAndGlyphs" stroke="#555555" stroke-width="0.50">1.7h</text>
<text x="463.8" y="270.8" font-size="14.2" fill="#555555" font-weight="normal" textLength="23.2" lengthAdjust="spacingAndGlyphs" stroke="#555555" stroke-width="0.50">1.6h</text>
<text x="509.6" y="81.0" font-size="14.2" fill="#555555" font-weight="normal" textLength="14.5" lengthAdjust="spacingAndGlyphs" stroke="#555555" stroke-width="0.50">2h</text>
<text x="694.4" y="107.6" font-size="14.2" fill="#555555" font-weight="normal" textLength="14.4" lengthAdjust="spacingAndGlyphs" stroke="#555555" stroke-width="0.50">2h</text>
<text x="621.0" y="187.6" font-size="14.2" fill="#555555" font-weight="normal" textLength="23.7" lengthAdjust="spacingAndGlyphs" stroke="#555555" stroke-width="0.50">2.3h</text>
<text x="632.5" y="381.0" font-size="9.6" fill="#9e281f" font-weight="normal" textLength="98.5" lengthAdjust="spacingAndGlyphs" stroke="#9e281f" stroke-width="0.45">Recommendation Score</text>
<text x="632.0" y="400.7" font-size="9.6" fill="#9e281f" font-weight="normal" textLength="43.4" lengthAdjust="spacingAndGlyphs" stroke="#9e281f" stroke-width="0.45">Great Wall</text>
<path d="M328.3,400.2 L320.4,388.1 A9.4,9.4 0 1 1 336.2,388.1 Z" fill="none" stroke="#b6423b" stroke-width="1.3" stroke-linejoin="round"/>
<circle cx="328.2" cy="383.2" r="5.4" fill="none" stroke="#b6423b" stroke-width="1.3"/>
<path d="M52.6,58 V40.4 H55.5 L64,53 V40.4 H66.6 V58 H63.8 L55.3,45.2 V58 Z" fill="#1b4cab"/>
<path d="M59.2,62 L74.2,92 L59.2,80.8 L43.3,92 Z" fill="#1d4fb2"/>
</svg></body></html>
